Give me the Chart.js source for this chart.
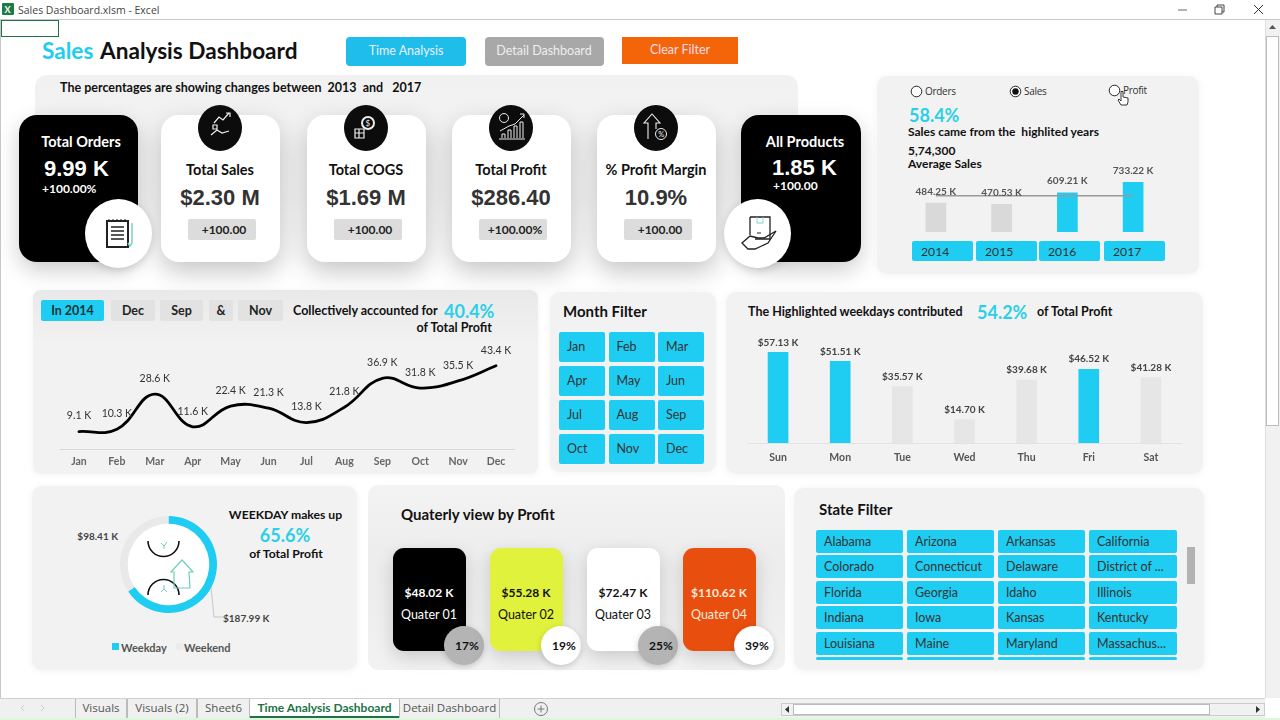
<!DOCTYPE html>
<html>
<head>
<meta charset="utf-8">
<title>Sales Analysis Dashboard</title>
<script src="https://cdn.jsdelivr.net/npm/chart.js@4"></script>
<style>
  html, body { margin: 0; padding: 0; background: #fff; }
  #page { position: relative; width: 1280px; height: 720px; overflow: hidden; font-family: Lato, "Open Sans", sans-serif; color: #111; }
  #page div, #page svg, #page canvas { position: absolute; box-sizing: border-box; }
  .t { white-space: pre; line-height: 1; }
  .panel { background: #f2f2f2; border-radius: 10px; box-shadow: 0 1px 8px rgba(0,0,0,.05); }
  .card { border-radius: 18px; background: #fff; box-shadow: 0 10px 26px rgba(0,0,0,.22); }
  .cell { background: #1fcdf2; border-radius: 2px; }
</style>
</head>
<body>
<div id="page"></div>
<script>
// data
const months = ['Jan', 'Feb', 'Mar', 'Apr', 'May', 'Jun', 'Jul', 'Aug', 'Sep', 'Oct', 'Nov', 'Dec'];
const monthProfit = [9.1, 10.3, 28.6, 11.6, 22.4, 21.3, 13.8, 21.8, 36.9, 31.8, 35.5, 43.4];
const weekdays = ['Sun', 'Mon', 'Tue', 'Wed', 'Thu', 'Fri', 'Sat'];
const weekdayProfit = [57.13, 51.51, 35.57, 14.70, 39.68, 46.52, 41.28];
const highlightedDays = ['Sun', 'Mon', 'Fri'];
const years = ['2014', '2015', '2016', '2017'];
const yearSales = [484.25, 470.53, 609.21, 733.22];
const highlightedYears = ['2016', '2017'];
const averageSales = [574.3, 574.3, 574.3, 574.3];
const dayTypes = ['Weekday', 'Weekend'];
const dayTypeProfit = [187.99, 98.41];
const quarterNames = ['Quater 01', 'Quater 02', 'Quater 03', 'Quater 04'];
const quarterProfit = ['$48.02 K', '$55.28 K', '$72.47 K', '$110.62 K'];
const quarterShare = ['17%', '19%', '25%', '39%'];
const kpiNames = ['Total Sales', 'Total COGS', 'Total Profit', '% Profit Margin'];
const kpiValues = ['$2.30 M', '$1.69 M', '$286.40', '10.9%'];
const kpiChanges = ['+100.00', '+100.00', '+100.00%', '+100.00'];
const states = ['Alabama', 'Arizona', 'Arkansas', 'California', 'Colorado', 'Connecticut', 'Delaware', 'District of ...',
  'Florida', 'Georgia', 'Idaho', 'Illinois', 'Indiana', 'Iowa', 'Kansas', 'Kentucky', 'Louisiana', 'Maine', 'Maryland', 'Massachus...'];
const tabNames = ['Visuals', 'Visuals (2)', 'Sheet6', 'Time Analysis Dashboard', 'Detail Dashboard'];

const CYAN = '#1fcdf2';
const page = document.getElementById('page');

function box(x, y, w, h, css, cls) {
  const d = document.createElement('div');
  d.style.cssText = `left:${x}px;top:${y}px;width:${w}px;height:${h}px;${css || ''}`;
  if (cls) d.className = cls;
  page.appendChild(d);
  return d;
}
// y is the middle of the text, align is l / c / r around x
function txt(x, y, s, size, css, align) {
  const d = document.createElement('div');
  d.className = 't';
  d.textContent = s;
  const shift = align === 'c' ? '-50%' : align === 'r' ? '-100%' : '0';
  d.style.cssText = `left:${x}px;top:${y}px;font-size:${size}px;transform:translate(${shift},-50%);${css || ''}`;
  page.appendChild(d);
  return d;
}
function svg(x, y, w, h, inner) {
  const wrap = document.createElement('div');
  wrap.style.cssText = `left:${x}px;top:${y}px;width:${w}px;height:${h}px`;
  wrap.innerHTML = `<svg width="${w}" height="${h}" viewBox="0 0 ${w} ${h}" fill="none">${inner}</svg>`;
  page.appendChild(wrap);
}
function canvas(x, y, w, h) {
  const c = document.createElement('canvas');
  c.width = w; c.height = h;
  c.style.cssText = `left:${x}px;top:${y}px;width:${w}px;height:${h}px`;
  page.appendChild(c);
  return c;
}
const bold = 'font-weight:700;';

// excel window chrome
box(0, 19, 1280, 1, 'background:#c8c8c8');
box(0, 19, 1, 680, 'background:#c8c8c8');
box(2, 3, 12, 12, 'background:#1f7a45;border-radius:1px');
txt(4.5, 9, 'X', 9, 'color:#fff;' + bold);
txt(18, 9.5, 'Sales Dashboard.xlsm - Excel', 10.5, 'color:#444;font-family:"Open Sans"');
svg(1170, 2, 104, 14, '<path d="M8 8h9" stroke="#666"/><path d="M45 5h7v7h-7zM47 5V3h7v7h-2" stroke="#444"/><path d="M84 3l9 9M93 3l-9 9" stroke="#333"/>');
box(1, 20, 58, 17, 'border:1px solid #217346');
box(1265, 20, 15, 678, 'background:#f1f1f1;border-left:1px solid #ddd');
box(1266, 36, 13, 390, 'background:#fff;border:1px solid #bbb');
svg(1268, 24, 9, 6, '<path d="M1 5l3.5-4L8 5z" fill="#555"/>');

// heading and buttons
txt(42, 51, 'Sales', 22.6, bold + 'color:' + CYAN);
txt(100, 51, 'Analysis Dashboard', 22.6, bold);
box(346, 37, 120, 29, 'background:#1fbdea;border-radius:4px');
txt(406, 51, 'Time Analysis', 12.5, 'color:#eef;', 'c');
box(485, 37, 119, 29, 'background:#a8a8a8;border-radius:4px');
txt(544, 51, 'Detail Dashboard', 12.5, 'color:#eee;', 'c');
box(622, 37, 116, 27, 'background:#f4650a');
txt(680, 50, 'Clear Filter', 12.5, 'color:#fde;', 'c');

// kpi band
box(35, 75, 763, 200, 'background:linear-gradient(#f1f1f1,#f4f4f4 60%,#fff);border-radius:12px');
txt(60, 88, 'The percentages are showing changes between  2013  and   2017', 12.5, bold);

box(19, 115, 119, 147, 'background:#000;border-radius:18px;box-shadow:0 8px 22px rgba(0,0,0,.2)');
txt(81, 142, 'Total Orders', 14.5, bold + 'color:#fff', 'c');
txt(44, 169, '9.99 K', 22, bold + 'color:#fff;font-family:"Liberation Sans"');
txt(42, 188.5, '+100.00%', 12, bold + 'color:#fff');

const cardLeft = [161, 307, 452, 597];
const iconPaths = [
  '<path d="M13 30l6-5 5 3 7-2M16 18l5-6 4 3 6-7M28 8h4v4M15 20h4v4h-4z" stroke="#eee" stroke-width="1.2"/>',
  '<circle cx="24" cy="18" r="6" stroke="#eee" stroke-width="2"/><path d="M11 24h9v9h-9zM11 28h9M15 24v9" stroke="#eee" stroke-width="1.2"/><text x="21.5" y="21" fill="#eee" font-size="8">$</text>',
  '<circle cx="15" cy="13" r="4.5" stroke="#eee"/><path d="M11 26l9-5 6-2 9-9M31 9h4v4" stroke="#eee"/><path d="M13 33v-4h3v4M19 33v-8h3v8M25 33v-12h3v12M31 33v-16h3v16" stroke="#eee"/><path d="M10 34h26" stroke="#eee"/>',
  '<path d="M14 34V18h-4l8-9 8 9h-4v6" stroke="#eee" stroke-width="1.1"/><circle cx="27" cy="29" r="5.5" stroke="#eee"/><text x="24.2" y="32" fill="#eee" font-size="7.5">%</text>'
];
kpiNames.forEach((name, i) => {
  const x = cardLeft[i], mid = x + 59;
  box(x, 115, 119, 147, '', 'card');
  box(x + 37, 105, 44, 46, 'background:#0c0c0c;border-radius:50%');
  svg(x + 37, 105, 44, 46, iconPaths[i]);
  txt(mid, 170, name, 14.5, bold, 'c');
  txt(mid, 197.5, kpiValues[i], 22, bold + 'font-family:"Liberation Sans";color:#333', 'c');
  box(x + 27, 219, 68, 21, 'background:#dcdcdc;border-radius:2px');
  txt(mid + 4, 230, kpiChanges[i], 12, bold + 'color:#222', 'c');
});

box(741, 115, 120, 147, 'background:#000;border-radius:18px;box-shadow:0 8px 22px rgba(0,0,0,.2)');
txt(805, 142, 'All Products', 14.5, bold + 'color:#fff', 'c');
txt(772, 168, '1.85 K', 22, bold + 'color:#fff;font-family:"Liberation Sans"');
txt(773, 185.5, '+100.00', 12, bold + 'color:#fff');

box(85, 199, 67, 69, 'background:#fff;border-radius:50%;box-shadow:0 2px 8px rgba(0,0,0,.15)');
svg(85, 199, 67, 69, '<rect x="22" y="22" width="21" height="26" stroke="#222" stroke-width="2"/><path d="M24 20v3M28 20v3M32 20v3M36 20v3M40 20v3" stroke="#222"/><path d="M26 28h13M26 32h13M26 36h13M26 40h13" stroke="#222" stroke-width="1.6"/><path d="M47 24v20l-2 3-2-3" stroke="#7fd6c8" stroke-width="1.6"/>');
box(724, 199, 67, 69, 'background:#fff;border-radius:50%;box-shadow:0 2px 8px rgba(0,0,0,.15)');
svg(724, 199, 67, 69, '<path d="M26 18h20v22h-15M26 18v18" stroke="#222" stroke-width="1.3"/><path d="M33 18v6h6v-6" stroke="#7fd6c8"/><path d="M33 34h4" stroke="#222"/><path d="M18 44l8-7 8 2h6l12-7-8 12-13 6h-7z" stroke="#222" stroke-width="1.3"/>');

// yearly sales panel
box(877, 76, 322, 198, '', 'panel');
const radioNames = ['Orders', 'Sales', 'Profit'];
const radioX = [916, 1015, 1114];
radioNames.forEach((name, i) => {
  const dot = i === 1 ? '<circle cx="6.5" cy="6.5" r="3.2" fill="#111"/>' : '';
  svg(radioX[i] - 6.5, 84.5 - (i === 2 ? 1 : 0), 13, 13, '<circle cx="6.5" cy="6.5" r="5.3" fill="#fff" stroke="#222"/>' + dot);
  txt(radioX[i] + 9, 91 - (i === 2 ? 1 : 0), name, 10, 'color:#333;font-family:"Open Sans";letter-spacing:-.3px');
});
svg(1116, 89, 14, 18, '<path d="M5 16l-3-5 1-1 2 2V2.5h2V8l5 1v4l-1 3z" fill="#fff" stroke="#222" stroke-width=".9"/>');
txt(909, 115, '58.4%', 18, bold + 'color:#2bd0e8');
txt(908, 131.5, 'Sales came from the  highlited years', 12, bold);
txt(908, 151, '5,74,300', 12, bold);
txt(908, 164, 'Average Sales', 12, bold);
const yearLeft = [912, 976, 1039, 1104];
years.forEach((y, i) => {
  box(yearLeft[i], 241, 61, 20, '', 'cell');
  txt(yearLeft[i] + 9, 252, y, 12.2, 'color:#333');
});

// monthly profit panel
box(33, 290, 505, 184, 'background:linear-gradient(#e9e9e9,#f2f2f2 30%);border-radius:8px;box-shadow:0 1px 6px rgba(0,0,0,.05)');
box(41, 300, 63, 21, 'background:#1fcdf2;border-radius:2px');
txt(72.5, 311, 'In 2014', 12.5, bold + 'color:#133', 'c');
const chipText = ['Dec', 'Sep', '&', 'Nov'];
const chipLeft = [111, 160, 209, 238];
const chipWidth = [44, 43, 24, 45];
chipText.forEach((s, i) => {
  box(chipLeft[i], 300, chipWidth[i], 21, 'background:#e2e2e2;border-radius:2px');
  txt(chipLeft[i] + chipWidth[i] / 2, 310.5, s, 12.5, bold + 'color:#222', 'c');
});
txt(293, 311, 'Collectively accounted for', 12.5, bold);
txt(444, 311, '40.4%', 18, bold + 'color:#2bd0e8');
txt(492, 328, 'of Total Profit', 12.5, bold, 'r');

// month filter
box(550, 292, 166, 180, '', 'panel');
txt(563, 311, 'Month Filter', 15, bold);
months.forEach((m, i) => {
  const x = 559 + (i % 3) * 49.5, y = 332 + Math.floor(i / 3) * 34;
  box(x, y, 46, 30, '', 'cell');
  txt(x + 8, y + 15, m, 12.5, 'color:#333');
});

// weekday profit panel
box(726, 292, 477, 182, '', 'panel');
txt(748, 312, 'The Highlighted weekdays contributed', 12.5, bold);
txt(977, 312, '54.2%', 18, bold + 'color:#2bd0e8');
txt(1037, 312, 'of Total Profit', 12.5, bold);

// weekday vs weekend panel
box(32, 486, 325, 184, '', 'panel');
box(126, 522, 85, 85, 'background:#fff;border-radius:50%');
svg(126, 522, 85, 85, '<path d="M22 19a15 15 0 0 0 31 0" stroke="#111" stroke-width="1.6"/><path d="M22 73a15 15 0 0 1 31 0" stroke="#111" stroke-width="1.6"/><path d="M35 21l3 3 3-4M38 24v3M35 70l3-3 3 3M38 67v-4" stroke="#6fcfb8"/><path d="M48 66V50h-3l11-12 11 12h-4l1 16z" stroke="#6fcfb8" stroke-width="1.2"/>');
txt(118, 535.5, '$' + dayTypeProfit[1].toFixed(2) + ' K', 10, bold + 'color:#444', 'r');
txt(223, 617.5, '$' + dayTypeProfit[0].toFixed(2) + ' K', 10, bold + 'color:#444');
svg(205, 585, 22, 36, '<path d="M6 2l3 30h12" stroke="#bbb" stroke-width=".8"/>');
txt(285.5, 515, 'WEEKDAY makes up', 12.2, bold, 'c');
txt(285, 535, '65.6%', 18, bold + 'color:#2bd0e8', 'c');
txt(286, 554, 'of Total Profit', 12.2, bold, 'c');
box(112, 643, 7, 7, 'background:' + CYAN);
txt(121, 646.5, dayTypes[0], 11, bold + 'color:#555');
box(176, 643, 7, 7, 'background:#ececec');
txt(184, 646.5, dayTypes[1], 11, bold + 'color:#555');

// quarterly panel
box(368, 485, 417, 185, 'background:linear-gradient(#f3f3f3,#ececec 45%,#f2f2f2);border-radius:10px');
txt(401, 514, 'Quaterly view by Profit', 15, bold);
const quarterLeft = [393, 490, 587, 683];
const quarterBg = ['#000', '#e0f23c', '#fff', '#e84e0e'];
const quarterFg = ['#fff', '#111', '#111', '#ffe9d8'];
const badgeBg = ['#b4b4b4', '#fff', '#b4b4b4', '#fff'];
quarterNames.forEach((q, i) => {
  const x = quarterLeft[i];
  box(x, 548, 73, 103, `background:${quarterBg[i]};border-radius:11px;box-shadow:0 6px 18px rgba(0,0,0,.16)`);
  txt(x + 36, 593, quarterProfit[i], 12, bold + 'color:' + quarterFg[i], 'c');
  txt(x + 36, 615, q, 12.5, 'color:' + quarterFg[i], 'c');
  box(x + 51, 626, 40, 39, `background:${badgeBg[i]};border-radius:50%;box-shadow:0 2px 6px rgba(0,0,0,.18)`);
  txt(x + 74, 646, quarterShare[i], 12, bold + 'color:#111', 'c');
});

// state filter
box(794, 488, 410, 182, '', 'panel');
txt(819, 509, 'State Filter', 15, bold);
const stateX = [816, 907, 998, 1089];
const stateW = [87, 87, 87, 88];
states.forEach((s, i) => {
  const col = i % 4, row = Math.floor(i / 4);
  const y = 530 + row * 25.4;
  box(stateX[col], y, stateW[col], 23, '', 'cell');
  txt(stateX[col] + 8, y + 12, s, 12.5, 'color:#333');
});
stateX.forEach((x, col) => box(x, 657, stateW[col], 3, '', 'cell'));
box(1187, 547, 8, 37, 'background:#b2b2b2');

// sheet tabs
box(0, 698, 1265, 20, 'background:#f0f0f0;border-top:1px solid #d0d0d0');
box(0, 718, 1280, 2, 'background:#dcf7dc');
const tabLeft = [75, 127, 197, 250, 399];
const tabWidth = [52, 70, 53, 149, 101];
svg(16, 702, 30, 12, '<path d="M8 3l-3 3 3 3M25 3l3 3-3 3" stroke="#ccc"/>');
tabNames.forEach((name, i) => {
  const active = i === 3;
  box(tabLeft[i], 699, tabWidth[i], 19, active ? 'background:#fff;border-bottom:2px solid #217346' : 'border-left:1px solid #bbb;border-right:1px solid #bbb');
  txt(tabLeft[i] + tabWidth[i] / 2, 708, name, active ? 12 : 11.5, active ? bold + 'color:#217346' : 'color:#555;font-family:"Open Sans"', 'c');
});
svg(533, 701, 16, 16, '<circle cx="8" cy="8" r="6.5" stroke="#777"/><path d="M8 4.5v7M4.5 8h7" stroke="#777"/>');
box(781, 703, 484, 13, 'background:#f1f1f1;border:1px solid #ccc');
box(793, 704, 417, 11, 'background:#fff;border:1px solid #bbb');
svg(783, 705, 9, 9, '<path d="M6 1L2 4.5 6 8z" fill="#333"/>');
svg(1254, 705, 9, 9, '<path d="M2 1l4 3.5L2 8z" fill="#333"/>');

// ---------- charts ----------
Chart.defaults.animation = false;
Chart.defaults.plugins.legend.display = false;
Chart.defaults.plugins.tooltip.enabled = false;
Chart.defaults.font.family = 'Lato, "Open Sans", sans-serif';

// writes each value above its point or bar
function valueLabels(format, gap, font, color) {
  return {
    id: 'valueLabels',
    afterDatasetsDraw(chart) {
      const ctx = chart.ctx;
      ctx.save();
      ctx.font = font;
      ctx.fillStyle = color;
      ctx.textAlign = 'center';
      ctx.textBaseline = 'middle';
      const meta = chart.getDatasetMeta(0);
      meta.data.forEach((el, i) => {
        ctx.fillText(format(chart.data.datasets[0].data[i]), el.x, el.y - gap);
      });
      ctx.restore();
    }
  };
}

new Chart(canvas(60, 334, 455, 137), {
  type: 'line',
  data: {
    labels: months,
    datasets: [{ data: monthProfit, borderColor: '#000', borderWidth: 2.8, tension: 0.42, pointRadius: 0, borderCapStyle: 'round' }]
  },
  options: {
    responsive: false,
    layout: { padding: 0 },
    scales: {
      x: {
        offset: true,
        afterFit: s => { s.height = 22; },
        grid: { display: false, tickLength: 0 },
        border: { color: '#d8d8d8' },
        ticks: { color: '#666', font: { size: 10.5, weight: 'bold' }, padding: 6, maxRotation: 0 }
      },
      y: { display: false, min: 0, max: 60 }
    }
  },
  plugins: [valueLabels(v => v.toFixed(1) + ' K', 15.5, '10.5px Lato', '#333')]
});

new Chart(canvas(747, 332, 435, 133), {
  type: 'bar',
  data: {
    labels: weekdays,
    datasets: [{
      data: weekdayProfit,
      barThickness: 20,
      backgroundColor: weekdays.map(d => highlightedDays.includes(d) ? CYAN : '#e6e6e6')
    }]
  },
  options: {
    responsive: false,
    layout: { padding: 0 },
    scales: {
      x: {
        afterFit: s => { s.height = 22; },
        grid: { display: false, tickLength: 0 },
        border: { color: '#e2e2e2' },
        ticks: { color: '#555', font: { size: 10.5, weight: 'bold' }, padding: 8 }
      },
      y: { display: false, min: 0, max: 70 }
    }
  },
  plugins: [valueLabels(v => '$' + v.toFixed(2) + ' K', 10, 'bold 10px Lato', '#444')]
});

new Chart(canvas(903, 160, 263, 72), {
  type: 'bar',
  data: {
    labels: years,
    datasets: [
      {
        data: yearSales,
        barThickness: 20,
        order: 2,
        backgroundColor: years.map(y => highlightedYears.includes(y) ? CYAN : '#d9d9d9')
      },
      { type: 'line', data: averageSales, borderColor: '#9a9a9a', borderWidth: 1.5, pointRadius: 0, order: 1 }
    ]
  },
  options: {
    responsive: false,
    layout: { padding: 0 },
    scales: {
      x: { display: false },
      y: { display: false, min: 140, max: 1000 }
    }
  },
  plugins: [valueLabels(v => v.toFixed(2) + ' K', 11.5, 'bold 10px Lato', '#555')]
});

new Chart(canvas(120, 516, 97, 97), {
  type: 'doughnut',
  data: {
    labels: dayTypes,
    datasets: [{ data: dayTypeProfit, backgroundColor: [CYAN, '#e9e9e9'], borderWidth: 0 }]
  },
  options: { responsive: false, cutout: '84%', layout: { padding: 0 } }
});
</script>
</body>
</html>
